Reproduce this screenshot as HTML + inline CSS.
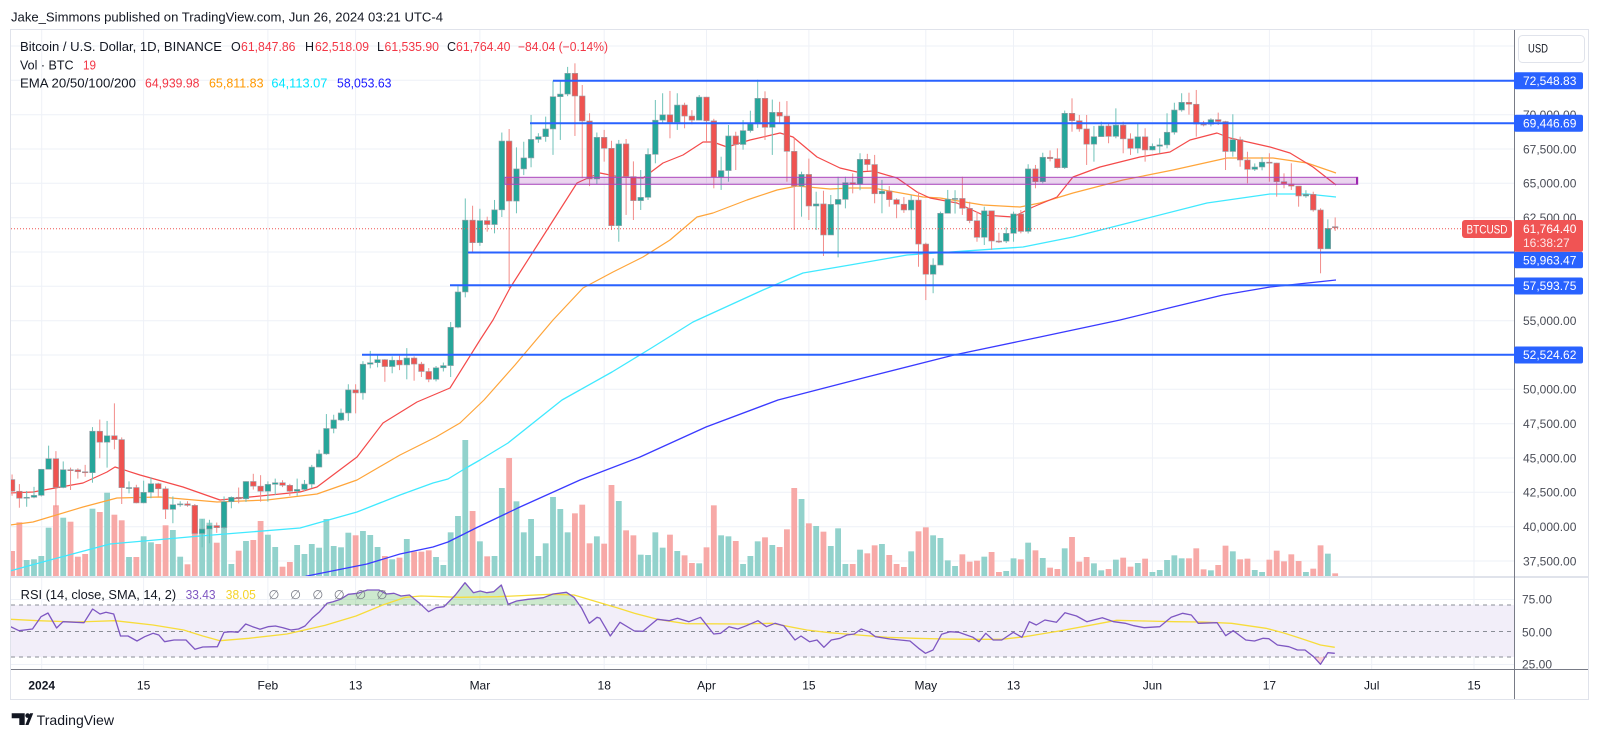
<!DOCTYPE html>
<html><head><meta charset="utf-8">
<style>
html,body{margin:0;padding:0;background:#fff;width:1600px;height:739px;overflow:hidden;}
svg{display:block;font-family:"Liberation Sans",Arial,sans-serif;}
</style></head><body>
<svg id="s" width="1600" height="739" viewBox="0 0 1600 739" xmlns="http://www.w3.org/2000/svg">
<defs>
<clipPath id="mp"><rect x="11" y="30" width="1503" height="547"/></clipPath>
<clipPath id="rp"><rect x="11" y="578" width="1503" height="91"/></clipPath>
<clipPath id="a70"><rect x="11" y="578" width="1503" height="27"/></clipPath>
<clipPath id="b30"><rect x="11" y="657" width="1503" height="12"/></clipPath>
</defs>
<rect width="1600" height="739" fill="#fff"/>
<text x="11" y="21.5" font-size="13" fill="#131722" textLength="432" lengthAdjust="spacingAndGlyphs">Jake_Simmons published on TradingView.com, Jun 26, 2024 03:21 UTC-4</text>
<g id="grid" stroke="#eef1f7" stroke-width="1"></g>
<rect x="11" y="605" width="1503" height="52" fill="#f2eef9"/>
<g clip-path="url(#mp)">
  <g id="vol"></g>
  <g id="emas" fill="none" stroke-linejoin="round"></g>
  <g id="cand"></g>
  <g id="draw"></g>
</g>
<g clip-path="url(#rp)">
  <g id="rsi"></g>
</g>
<rect x="10.5" y="29.5" width="1578" height="670" fill="none" stroke="#e0e3eb"/>
<line x1="11" y1="577" x2="1588" y2="577" stroke="#e0e3eb" stroke-width="2"/>
<line x1="1514.5" y1="30" x2="1514.5" y2="699" stroke="#787b86" stroke-width="1"/>
<line x1="11" y1="669.5" x2="1588" y2="669.5" stroke="#787b86" stroke-width="1"/>

<g font-size="12" fill="#4a4d57">
<text x="1523" y="119">70,000.00</text>
<text x="1523" y="153.3">67,500.00</text>
<text x="1523" y="187.6">65,000.00</text>
<text x="1523" y="222">62,500.00</text>
<text x="1523" y="325">55,000.00</text>
<text x="1523" y="393.6">50,000.00</text>
<text x="1523" y="428">47,500.00</text>
<text x="1523" y="462.3">45,000.00</text>
<text x="1523" y="496.6">42,500.00</text>
<text x="1523" y="531">40,000.00</text>
<text x="1523" y="565.3">37,500.00</text>
<text x="1522" y="603.3">75.00</text>
<text x="1522" y="636.3">50.00</text>
<text x="1522" y="668.3">25.00</text>
</g>
<rect x="1518.5" y="35.5" width="66" height="27" rx="4" fill="#fff" stroke="#e0e3eb"/>
<text x="1528" y="52.5" font-size="12" fill="#131722" textLength="20" lengthAdjust="spacingAndGlyphs">USD</text>

<g font-size="12" fill="#fff">
<rect x="1514" y="72.2" width="69" height="17" rx="2" fill="#2962ff"/><text x="1523" y="85">72,548.83</text>
<rect x="1514" y="114.8" width="69" height="17" rx="2" fill="#2962ff"/><text x="1523" y="127.6">69,446.69</text>
<rect x="1514" y="251.7" width="69" height="16.6" rx="2" fill="#2962ff"/><text x="1523" y="264.3">59,963.47</text>
<rect x="1514" y="277.5" width="69" height="17" rx="2" fill="#2962ff"/><text x="1523" y="290">57,593.75</text>
<rect x="1514" y="346.5" width="69" height="17" rx="2" fill="#2962ff"/><text x="1523" y="359.2">52,524.62</text>
<rect x="1514" y="220" width="69" height="31.7" rx="2" fill="#f05454"/>
<text x="1523" y="233">61,764.40</text>
<text x="1523" y="247" fill-opacity="0.85">16:38:27</text>
<rect x="1462" y="220" width="50" height="18" rx="3" fill="#f05454"/>
<text x="1466.5" y="233.3" textLength="41" lengthAdjust="spacingAndGlyphs">BTCUSD</text>
</g>

<g font-size="12" fill="#131722" text-anchor="middle">
<text x="41.7" y="689.3" font-weight="bold">2024</text>
<text x="143.6" y="689.3">15</text>
<text x="267.9" y="689.3">Feb</text>
<text x="355.6" y="689.3">13</text>
<text x="479.9" y="689.3">Mar</text>
<text x="604.2" y="689.3">18</text>
<text x="706.5" y="689.3">Apr</text>
<text x="808.9" y="689.3">15</text>
<text x="925.8" y="689.3">May</text>
<text x="1013.5" y="689.3">13</text>
<text x="1152.4" y="689.3">Jun</text>
<text x="1269.4" y="689.3">17</text>
<text x="1371.7" y="689.3">Jul</text>
<text x="1474" y="689.3">15</text>
</g>

<g font-size="12.5" fill="#131722">
<text x="20" y="51" textLength="202" lengthAdjust="spacingAndGlyphs">Bitcoin / U.S. Dollar, 1D, BINANCE</text>
<text x="231" y="51">O</text><text x="241" y="51" fill="#f23645" textLength="54.5" lengthAdjust="spacingAndGlyphs">61,847.86</text>
<text x="305" y="51">H</text><text x="315" y="51" fill="#f23645" textLength="54" lengthAdjust="spacingAndGlyphs">62,518.09</text>
<text x="377" y="51">L</text><text x="384.5" y="51" fill="#f23645" textLength="54.5" lengthAdjust="spacingAndGlyphs">61,535.90</text>
<text x="447" y="51">C</text><text x="456" y="51" fill="#f23645" textLength="54.5" lengthAdjust="spacingAndGlyphs">61,764.40</text>
<text x="518" y="51" fill="#f23645" textLength="90" lengthAdjust="spacingAndGlyphs">−84.04 (−0.14%)</text>
<text x="20" y="69.5" textLength="53.5" lengthAdjust="spacingAndGlyphs">Vol · BTC</text>
<text x="83" y="69.5" fill="#f23645" textLength="13" lengthAdjust="spacingAndGlyphs">19</text>
<text x="20" y="87.5" textLength="116" lengthAdjust="spacingAndGlyphs">EMA 20/50/100/200</text>
<text x="145" y="87.5" fill="#f23645" textLength="54.5" lengthAdjust="spacingAndGlyphs">64,939.98</text>
<text x="209" y="87.5" fill="#ff9800" textLength="54.5" lengthAdjust="spacingAndGlyphs">65,811.83</text>
<text x="271.4" y="87.5" fill="#00e5ff" textLength="56" lengthAdjust="spacingAndGlyphs">64,113.07</text>
<text x="337" y="87.5" fill="#1a1aff" textLength="54.5" lengthAdjust="spacingAndGlyphs">58,053.63</text>
<text x="20.7" y="598.8" textLength="155.5" lengthAdjust="spacingAndGlyphs">RSI (14, close, SMA, 14, 2)</text>
<text x="185.6" y="598.8" fill="#7e57c2" textLength="30" lengthAdjust="spacingAndGlyphs">33.43</text>
<text x="225.8" y="598.8" fill="#f5d328" textLength="30" lengthAdjust="spacingAndGlyphs">38.05</text>
<g fill="#787b86" text-anchor="middle">
<text x="274" y="598.8">∅</text><text x="295.6" y="598.8">∅</text><text x="317.8" y="598.8">∅</text><text x="339.2" y="598.8">∅</text><text x="360.7" y="598.8">∅</text><text x="382" y="598.8">∅</text>
</g>
</g>

<g fill="#131722">
<path d="M11.7,713.3 H24.7 V725 H19.3 V718.3 H11.7 Z"/>
<circle cx="27.6" cy="715.6" r="2.3"/>
<path d="M25.3,725 L30,713.3 H33.2 L28.5,725 Z"/>
<text x="36.7" y="725" font-size="14" textLength="77.3" lengthAdjust="spacingAndGlyphs">TradingView</text>
</g>
</svg>
<script>
(function(){
const NS='http://www.w3.org/2000/svg';
function el(p,t,a){const e=document.createElementNS(NS,t);for(const k in a)e.setAttribute(k,a[k]);p.appendChild(e);return e;}
const X0=41.3,DX=7.31;
function xd(d){return X0+d*DX;}
function yp(p){return 561-(p-37500)*0.013733;}
const C=[42580,42070,42140,42280,44180,44950,42850,44150,44140,44000,43930,46950,46150,46620,46340,42840,42850,41730,42500,43130,42760,41260,41600,41660,41550,39500,39830,40080,39930,41820,42140,42030,43290,42950,42580,43080,43200,43010,42580,42710,43100,44340,45300,47150,47770,48280,49960,49740,51830,51940,52160,51660,52120,51780,52280,51840,51300,50730,51570,51730,54520,57090,62320,60680,62290,62000,63070,68080,63710,66050,66850,68200,68400,68960,71310,71500,73010,71360,69540,65320,68350,67550,61920,67870,65490,63740,63980,67110,69600,69990,69450,70700,69900,69600,71280,69550,65440,65930,68450,67830,68840,69330,71190,69080,70170,69900,67330,64800,65650,63350,63500,61240,63470,63830,65050,64930,66750,66370,64240,64430,63810,63480,63060,63780,60580,58380,59050,62820,63840,63900,63180,62280,61070,63000,60800,60790,61360,62770,61500,66050,65120,66900,66800,66140,70100,69560,68960,67850,68400,69180,68420,69240,68240,67550,68390,67430,67700,67800,68720,70340,70900,70760,69320,69300,69640,69500,67320,68180,66700,66020,66190,66540,66480,65120,64950,64800,64080,64200,63060,60230,61720,61764];
const H=[43800,43100,42600,42900,44200,45900,45500,44750,44300,44250,44500,47250,47800,47700,48980,46500,43300,43050,43350,43600,43200,42930,42200,41850,41850,41650,40550,40500,40300,42200,42200,42850,43300,43850,43750,43300,43500,43380,43120,43500,43400,44500,45600,48200,48150,48600,50370,50370,52050,52800,52500,52200,52400,52450,53000,52400,52000,51550,51700,51950,54900,57600,63900,63370,63150,62570,63790,68700,68960,67620,68030,69980,68650,69860,72480,72480,73480,73740,72160,70100,68700,68890,68100,68160,68230,66600,65970,67550,71070,71560,71730,71560,70870,70330,71430,71300,69700,66940,69250,68760,69610,70290,72550,71700,71100,70940,70990,68280,65850,66800,64390,64460,64150,65480,65480,65730,67190,67150,67070,65250,64800,63910,64000,64150,64390,60680,59540,62940,64520,64500,65480,63660,62940,63300,63010,61400,61800,62940,63060,66390,66340,67230,67400,67550,70300,71190,69980,69980,69180,69490,69370,70460,69490,68640,69320,69010,67900,68280,70100,70870,71560,71600,71800,69550,69740,70150,69550,70030,68400,67300,66450,66900,67190,66500,65730,66460,64800,64500,64390,63180,62380,62518];
const L=[42250,41380,41450,42070,42200,44200,41450,42800,42670,43500,43640,43200,44980,44300,45630,41650,42430,41700,41700,42070,42200,40560,40250,41450,41450,39450,38500,38790,39550,39820,41340,41700,41800,42700,41820,41820,42300,42880,42250,42250,42600,42800,44330,45240,46800,47700,47700,48250,49250,51530,51600,50550,51170,51400,50730,50630,50900,50520,50580,51300,50900,54450,56700,59900,60450,61480,61360,62550,57380,62820,65600,66170,67950,68030,67070,68160,71350,68450,65370,64800,64950,66580,61600,60750,62700,62330,63060,63790,66460,69370,68280,68890,69010,69300,69600,68030,64640,64520,65120,65970,67450,68700,69040,68160,67070,69370,65120,61600,62570,62330,61600,59710,61360,59610,63180,64270,64500,65900,63550,62820,63300,62460,62850,61730,58930,56500,57000,59180,62820,62800,62700,62100,60750,60510,60150,60650,60650,60750,61360,61350,64640,65000,66600,66090,66050,68760,68760,66340,66580,68400,67920,68280,67190,67070,67190,66580,67400,67190,67550,68550,70220,70000,68400,69150,69150,69250,65970,66940,66210,65000,65900,65950,65120,64030,64640,64520,63300,63950,62940,58450,60230,61536];
const V6=[551,522.3,560,559.3,556,527.7,505.3,517.7,521.7,556.7,554,508.7,512,492.7,514.7,520.3,557,557,536.3,542.3,544,525.3,530,556.7,564.3,505.7,518.7,522.7,542.7,513.3,564,550.7,541,540,521,534.7,547,566.7,562,545,554,544,547.7,519,546,547.3,532.7,535.3,531,535,547,556,559.3];
const V9=[473,417,455,455,451,471,495,397,348,120,333,424,469,468,264,174,304,397,357,468,430,291,327,397,340,314,430,409,431,255,303,391,406,464,465,397,443,404,453,466,489,490,442,316,406,409,423,492,468,424,412,435,441,388,264,297,370,378,395,438,385,492,492,449,460,436,432,465,492,501,454,394,382,406,414,481,498,463,485,482,470,456,516,513,475,478,428,451,474,503,507,445,411,485,471,490,511,507,479,473,500,489,476,516,510,480,466,475,475,445,508,511,495,437,454,478,476,510,516,479,452,484,463,483,516,506,436,461,520];

// grid
const g=document.getElementById('grid');
const vx=[41.7,143.6,267.9,355.6,479.9,604.2,706.5,808.9,925.8,1013.5,1152.4,1269.4,1371.7,1474];
vx.forEach(x=>el(g,'line',{x1:x,x2:x,y1:30,y2:669}));
for(let p=37500;p<=75000;p+=2500){const y=yp(p).toFixed(1);el(g,'line',{x1:11,x2:1514,y1:y,y2:y});}
[599.5,664.5].forEach(y=>el(g,'line',{x1:11,x2:1514,y1:y,y2:y}));

const vol=document.getElementById('vol'),cand=document.getElementById('cand');
for(let i=0;i<182;i++){
  const d=i-4,x=xd(d);
  const o=i==0?43430:(i==181?61848:C[i-1]);
  const c=C[i],h=Math.max(H[i],o,c),l=Math.min(L[i],o,c);
  const up=c>=o;
  const vt=i<53?V6[i]:400+V9[i-53]/3;
  el(vol,'rect',{x:(x-2.9).toFixed(2),y:vt.toFixed(2),width:5.8,height:Math.max(0.5,576-vt).toFixed(2),fill:up?'#92d2cc':'#f7a9a7'});
  el(cand,'line',{x1:x.toFixed(2),x2:x.toFixed(2),y1:yp(h).toFixed(2),y2:yp(l).toFixed(2),stroke:up?'#6fc2b8':'#f28c8a','stroke-width':1});
  const yt=yp(Math.max(o,c)),yb=yp(Math.min(o,c));
  el(cand,'rect',{x:(x-2.8).toFixed(2),y:yt.toFixed(2),width:5.6,height:Math.max(1,yb-yt).toFixed(2),fill:up?'#26a69a':'#ef5350',stroke:'#9aa0a8','stroke-width':0.6});
}
const emas=document.getElementById('emas');
const E200="290,582 307,576 367,564 400,554 433,547 448,542 478,527 520,507 580,480 640,457 706,427 778,400 867,377 954,355 1040,337 1120,320 1173,307 1223,295 1270,287 1336,280";
const E100="10,571 50,560 110,544 200,536 300,528 357,512 400,495 433,483 448,479 466,468 480,460 508,443 562,400 612,372 653,347 693,322 763,290 803,273 850,265 907,255 1023,247 1073,237 1140,220 1207,203 1270,194 1307,194 1336,197";
const E50="10,525 33,522 83,507 117,498 160,497 217,502 267,500 317,494 357,480 400,455 436,437 460,423 484,400 515,365 553,320 583,288 613,272 643,257 670,240 697,217 713,213 747,200 777,190 797,186 830,189 850,188 873,188 923,197 940,198 983,205 1020,207 1040,203 1073,193 1123,180 1173,170 1227,158 1273,158 1307,163 1336,173";
const E20="10,493 33,492 83,483 107,472 115,467 140,475 183,487 220,500 250,497 300,492 317,487 357,457 383,423 417,402 450,388 480,340 493,320 510,288 547,230 577,183 590,177 600,173 620,177 643,178 663,163 683,155 703,142 713,142 727,147 750,140 780,133 793,137 817,157 840,168 857,172 873,171 897,178 917,192 930,198 957,203 983,215 1013,217 1033,207 1057,197 1073,177 1100,167 1140,157 1170,152 1190,140 1217,133 1230,138 1270,147 1290,153 1313,167 1336,185";
el(emas,'polyline',{points:E200,stroke:'#3a3aff','stroke-width':1.3});
el(emas,'polyline',{points:E100,stroke:'#40e9ff','stroke-width':1.3});
el(emas,'polyline',{points:E50,stroke:'#ffa53a','stroke-width':1.2});
el(emas,'polyline',{points:E20,stroke:'#f44a4a','stroke-width':1.2});

const dr=document.getElementById('draw');
el(dr,'line',{x1:11,x2:1514,y1:228.7,y2:228.7,stroke:'#ef5350','stroke-width':1,'stroke-dasharray':'1 2'});
el(dr,'rect',{x:505,y:177.3,width:852.7,height:7,fill:'rgba(156,39,176,0.2)',stroke:'#ab47bc','stroke-width':1});
el(dr,'line',{x1:1357,x2:1357,y1:177.3,y2:184.3,stroke:'#9c27b0','stroke-width':2});
[[553,80.7],[530,123.3],[468,252.5],[450,285.3],[362,354.7]].forEach(a=>{
  el(dr,'line',{x1:a[0],x2:1514,y1:a[1],y2:a[1],stroke:'#2962ff','stroke-width':2});
});

// RSI
const r=document.getElementById('rsi');
const RSI="10.7,626.7 19,630.7 32.5,629 41,616.7 48,613 56.6,628 63,621.7 84,622.7 92.6,609 100,614 106,612.3 113.7,614 120.5,636 128,636 137,641 144.7,636.7 153,633.3 158.8,635 164.6,641.7 174,640 186,640 195,649.3 202.8,647 217.4,646.7 224,632.3 231.5,631.7 238,632.3 245.7,624 252.6,626.7 260,629.3 268,626.7 275.5,626 283,627.7 290.8,630 298.5,629 305,626 312,618.3 319.6,611.7 327,603.3 333,601.7 340.6,599.3 348.3,594.3 357.8,593.3 367.4,590 378.9,590 386.5,594 394,593.3 401,596 409.5,595 419,602.7 428.6,611.7 436.3,607.7 444,606.7 455.4,595 465,582.7 473.4,592.7 480.3,591 486.8,592.7 493.7,591.7 501.3,585 508.2,604.3 516.6,601 528,599.3 543.4,597.7 553,594 566.4,592.3 574,597.3 581.7,608.3 589.3,623.3 597,617.3 600,618.3 610.3,636 620,622.3 634.4,631 643,631.3 657.4,619.3 669,620.7 677.5,618.3 689,621.7 700.5,617.3 713.7,634 720.6,633.3 729,626.7 737.8,629 746.4,625.7 757.9,620.7 766.5,626.7 775,623.3 783.7,625.7 795,640 801,636 809.5,641.7 817,640 823.9,647.3 831.3,640 840,638.3 846.8,635 854.3,634 861.2,629 868.7,631.7 875.5,636.7 890,639 910,641 918.6,648.3 925.5,653.3 933,650 941.6,634.3 950,631.7 958.8,632.3 973,637.3 979,641.7 985.8,633.3 993.2,640 1001.8,640 1013.3,632.3 1021.9,637.3 1029.4,621.7 1036.3,625 1044.9,620 1056.4,622.3 1065,612.7 1076.5,616 1086.8,621.7 1102.3,617.7 1113.8,621.7 1125.3,623.3 1133.9,625.7 1144.2,627.7 1159.7,626.7 1171.2,617.3 1182.7,613.3 1191.3,615 1198.2,623.3 1217.1,622.7 1225.7,635.7 1233.2,630.7 1245.8,640 1254.5,641 1263.1,638.3 1268.8,638.7 1277.4,645 1288.9,646.7 1297.5,650 1305,650 1313.6,656.7 1320.5,664.3 1327.9,652.7 1334.8,653.3";
const SMA="10.7,619.3 38,620.7 76.5,622 114.8,620.7 153,625 183.7,630 202.8,636 220,640.7 248.8,638.3 287,634 325.3,625.3 356,616 382.7,605 405.7,597.3 421,596 459,597.3 497.5,596.7 551,594.3 574,595 600,602.7 617,607.7 634.4,613.3 657.4,619.3 686,623.7 743.5,624 772,623.3 806.7,630 829.6,632.7 858.3,635 887,637.3 915.7,638.3 944.4,639 973,639.3 1001.8,639.3 1024.8,636.7 1059.2,631 1088,625.7 1116.6,620.3 1145.4,621 1174,621.7 1202.8,622 1231.5,623.3 1266,628.3 1283.1,632.7 1300.3,638.3 1320.5,645 1334.8,647.3";
[605,631.5,657].forEach(y=>el(r,'line',{x1:11,x2:1514,y1:y,y2:y,stroke:'#8a8d96','stroke-width':1,'stroke-dasharray':'4 4'}));
const ga=el(r,'g',{'clip-path':'url(#a70)'});
el(ga,'polygon',{points:RSI+' 1334.8,605 10.7,605',fill:'rgba(76,175,80,0.28)'});
const gb=el(r,'g',{'clip-path':'url(#b30)'});
el(gb,'polygon',{points:RSI+' 1334.8,657 10.7,657',fill:'rgba(242,54,69,0.22)'});
el(r,'polyline',{points:SMA,fill:'none',stroke:'#f7dc3a','stroke-width':1.3,'stroke-linejoin':'round'});
el(r,'polyline',{points:RSI,fill:'none',stroke:'#7e57c2','stroke-width':1.3,'stroke-linejoin':'round'});
})();
</script>
</body></html>
